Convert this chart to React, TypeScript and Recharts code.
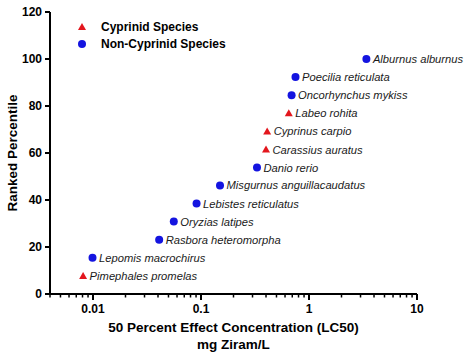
import React from 'react';
import { ScatterChart, Scatter, XAxis, YAxis, Legend, LabelList, Label } from 'recharts';

const species = [
  'Pimephales promelas', 'Lepomis macrochirus', 'Rasbora heteromorpha', 'Oryzias latipes',
  'Lebistes reticulatus', 'Misgurnus anguillacaudatus', 'Danio rerio', 'Carassius auratus',
  'Cyprinus carpio', 'Labeo rohita', 'Oncorhynchus mykiss', 'Poecilia reticulata', 'Alburnus alburnus',
];
const lc50 = [0.0081, 0.0099, 0.041, 0.056, 0.091, 0.15, 0.33, 0.40, 0.41, 0.65, 0.69, 0.75, 3.4];
const percentile = [7.7, 15.4, 23.1, 30.8, 38.5, 46.2, 53.8, 61.5, 69.2, 76.9, 84.6, 92.3, 100];
const cyprinid = [true, false, false, false, false, false, false, true, true, true, false, false, false];

const xMajorTicks = [0.01, 0.1, 1, 10];
const xMinorTicks = [
  0.004, 0.005, 0.006, 0.007, 0.008, 0.009,
  0.02, 0.03, 0.04, 0.05, 0.06, 0.07, 0.08, 0.09,
  0.2, 0.3, 0.4, 0.5, 0.6, 0.7, 0.8, 0.9,
  2, 3, 4, 5, 6, 7, 8, 9,
];
const yTicks = [0, 20, 40, 60, 80, 100, 120];

const RED = '#e3161d';
const BLUE = '#1414e0';
const FONT = '"Liberation Sans", Arial, sans-serif';

const rows = species.map((name, i) => ({ name, x: lc50[i], y: percentile[i], cyp: cyprinid[i] }));
const cypData = rows.filter((r) => r.cyp);
const otherData = rows.filter((r) => !r.cyp);

const Dot = (p: any) => <circle cx={p.cx} cy={p.cy} r={4} fill={BLUE} />;
const Tri = (p: any) => (
  <polygon points={`${p.cx},${p.cy - 4} ${p.cx + 4},${p.cy + 3} ${p.cx - 4},${p.cy + 3}`} fill={RED} />
);

const XTick = (props: any) => {
  const { x, y, payload } = props;
  const major = xMajorTicks.includes(payload.value);
  return (
    <g>
      <line x1={x} x2={x} y1={y} y2={y + (major ? 6 : 3.5)} stroke="#000" strokeWidth={major ? 2 : 1.5} />
      {major && (
        <text x={x} y={y + 19} textAnchor="middle" fontSize={12} fontWeight="bold" fontFamily={FONT} fill="#000">
          {String(payload.value)}
        </text>
      )}
    </g>
  );
};

const XTitle = (props: any) => {
  const { x, y, width } = props.viewBox;
  const cx = x + width / 2;
  return (
    <g fontFamily={FONT} fontWeight="bold" fontSize={13.5} fill="#000" textAnchor="middle">
      <text x={cx} y={y + 38}>50 Percent Effect Concentration (LC50)</text>
      <text x={cx} y={y + 55}>mg Ziram/L</text>
    </g>
  );
};

const YTitle = (props: any) => {
  const { x, y, height } = props.viewBox;
  const cy = y + height / 2;
  const tx = x + 17;
  return (
    <text x={tx} y={cy} transform={`rotate(-90 ${tx} ${cy})`} textAnchor="middle"
      fontFamily={FONT} fontWeight="bold" fontSize={13.5} fill="#000">
      Ranked Percentile
    </text>
  );
};

// point names, italic, to the right of each marker
const PointLabel = (props: any) => {
  const { x, y, width, height, value } = props;
  return (
    <text x={x + width + 2} y={y + height / 2} dy="0.36em" fontSize={11.2} fontStyle="italic"
      fontFamily={FONT} fill="#1a1a1a">
      {value}
    </text>
  );
};

const renderLegend = () => (
  <div style={{ fontFamily: FONT, fontWeight: 'bold', fontSize: 12, color: '#000' }}>
    {[{ label: 'Cyprinid Species', tri: true }, { label: 'Non-Cyprinid Species', tri: false }].map((it) => (
      <div key={it.label} style={{ display: 'flex', alignItems: 'center', height: 17 }}>
        <svg width={10} height={10}>
          {it.tri
            ? <polygon points="5,1 9,8 1,8" fill={RED} />
            : <circle cx={5} cy={5} r={4} fill={BLUE} />}
        </svg>
        <span style={{ marginLeft: 14 }}>{it.label}</span>
      </div>
    ))}
  </div>
);

export default function App() {
  return (
    <div style={{ position: 'absolute', left: 0, top: 0, background: '#fff' }}>
      <ScatterChart width={474} height={353} margin={{ top: 12, right: 57, bottom: 0, left: 0 }}>
        <XAxis
          dataKey="x"
          type="number"
          scale="log"
          domain={[0.004, 10]}
          allowDataOverflow
          ticks={[...xMinorTicks, ...xMajorTicks].sort((a, b) => a - b)}
          interval={0}
          height={59}
          tickSize={0}
          tickMargin={0}
          tickLine={false}
          axisLine={{ stroke: '#000', strokeWidth: 2 }}
          tick={<XTick />}
        >
          <Label content={<XTitle />} />
        </XAxis>
        <YAxis
          dataKey="y"
          type="number"
          domain={[0, 120]}
          ticks={yTicks}
          interval={0}
          width={50}
          tickSize={5}
          tickMargin={3}
          axisLine={{ stroke: '#000', strokeWidth: 2 }}
          tickLine={{ stroke: '#000', strokeWidth: 2 }}
          tick={{ fontSize: 12, fontWeight: 'bold', fontFamily: FONT, fill: '#000' }}
        >
          <Label content={<YTitle />} />
        </YAxis>
        <Legend
          content={renderLegend}
          layout="vertical"
          verticalAlign="middle"
          align="center"
          wrapperStyle={{ top: 18, left: 77, width: 'auto' }}
        />
        <Scatter name="Cyprinid Species" data={cypData} shape={<Tri />} isAnimationActive={false}>
          <LabelList dataKey="name" content={<PointLabel />} />
        </Scatter>
        <Scatter name="Non-Cyprinid Species" data={otherData} shape={<Dot />} isAnimationActive={false}>
          <LabelList dataKey="name" content={<PointLabel />} />
        </Scatter>
      </ScatterChart>
    </div>
  );
}
